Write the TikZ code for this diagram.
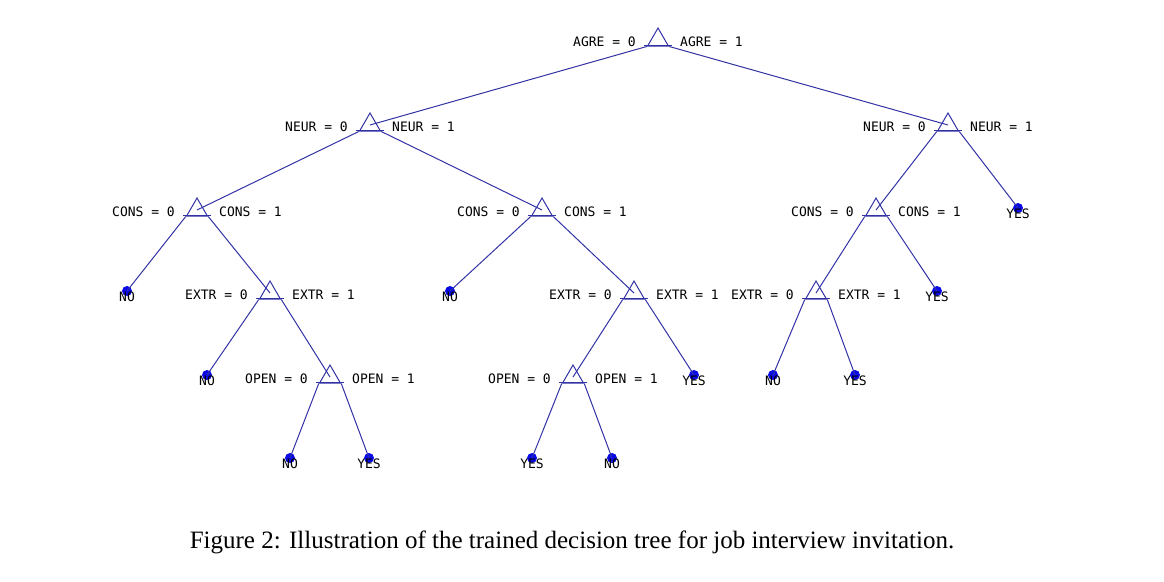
\documentclass[tikz,border=0pt]{standalone}
\usepackage{fontspec}
\setmainfont{Liberation Serif}
\newfontfamily\lblfont{DejaVu Sans Mono}
\usetikzlibrary{shapes.geometric}
\definecolor{edge}{RGB}{50,50,165}
\definecolor{dot}{RGB}{10,10,230}
\tikzset{
 split/.style={regular polygon,regular polygon sides=3,draw=edge,line width=1pt,minimum size=24pt,inner sep=0pt},
 leaf/.style={circle,fill=dot,minimum size=10pt,inner sep=0pt},
 lbl/.style={font=\lblfont\fontsize{13}{14}\selectfont,text=black,inner sep=0pt},
 ln/.style={draw=edge,line width=1pt}
}
\begin{document}
\begin{tikzpicture}[x=1pt,y=-1pt]
\useasboundingbox (0,0) rectangle (1164,581);
\foreach \n/\x/\y/\v in {r/658/40/AGRE,a/370/125/NEUR,b/948/125/NEUR,c/197/210/CONS,d/542/210/CONS,e/876/210/CONS,f/270/293/EXTR,g/634/293/EXTR,h/816/293/EXTR,i/330/377/OPEN,j/573/377/OPEN}{
 \node[split] (\n) at (\x,\y) {};
 \draw[ln] (\x-14,\y+5) -- (\x+14,\y+5);
 \node[lbl,anchor=east] (\n L) at (\x-22,\y+2) {\v{} = 0};
 \node[lbl,anchor=west] (\n R) at (\x+22,\y+2) {\v{} = 1};
}
\foreach \n/\x/\y/\t in {l1/1018/208/YES,l2/127/291/NO,l3/450/291/NO,l4/937/291/YES,l5/207/375/NO,l6/694/375/YES,l7/773/375/NO,l8/855/375/YES,l9/290/458/NO,l10/369/458/YES,l11/532/458/YES,l12/612/458/NO}{
 \node[leaf] (\n) at (\x,\y) {};
 \node[lbl,anchor=north] (\n T) at (\x,\y+1) {\t};
}
\draw[ln] (r.corner 2) -- (a.center);
\draw[ln] (r.corner 3) -- (b.center);
\draw[ln] (a.corner 2) -- (c.center);
\draw[ln] (a.corner 3) -- (d.center);
\draw[ln] (b.corner 2) -- (e.center);
\draw[ln] (b.corner 3) -- (l1.center);
\draw[ln] (c.corner 2) -- (l2.center);
\draw[ln] (c.corner 3) -- (f.center);
\draw[ln] (d.corner 2) -- (l3.center);
\draw[ln] (d.corner 3) -- (g.center);
\draw[ln] (e.corner 2) -- (h.center);
\draw[ln] (e.corner 3) -- (l4.center);
\draw[ln] (f.corner 2) -- (l5.center);
\draw[ln] (f.corner 3) -- (i.center);
\draw[ln] (g.corner 2) -- (j.center);
\draw[ln] (g.corner 3) -- (l6.center);
\draw[ln] (h.corner 2) -- (l7.center);
\draw[ln] (h.corner 3) -- (l8.center);
\draw[ln] (i.corner 2) -- (l9.center);
\draw[ln] (i.corner 3) -- (l10.center);
\draw[ln] (j.corner 2) -- (l11.center);
\draw[ln] (j.corner 3) -- (l12.center);
\node[font=\fontsize{25}{28}\selectfont] (cap) at (572,542) {Figure 2: Illustration of the trained decision tree for job interview invitation.};
\end{tikzpicture}
\end{document}
